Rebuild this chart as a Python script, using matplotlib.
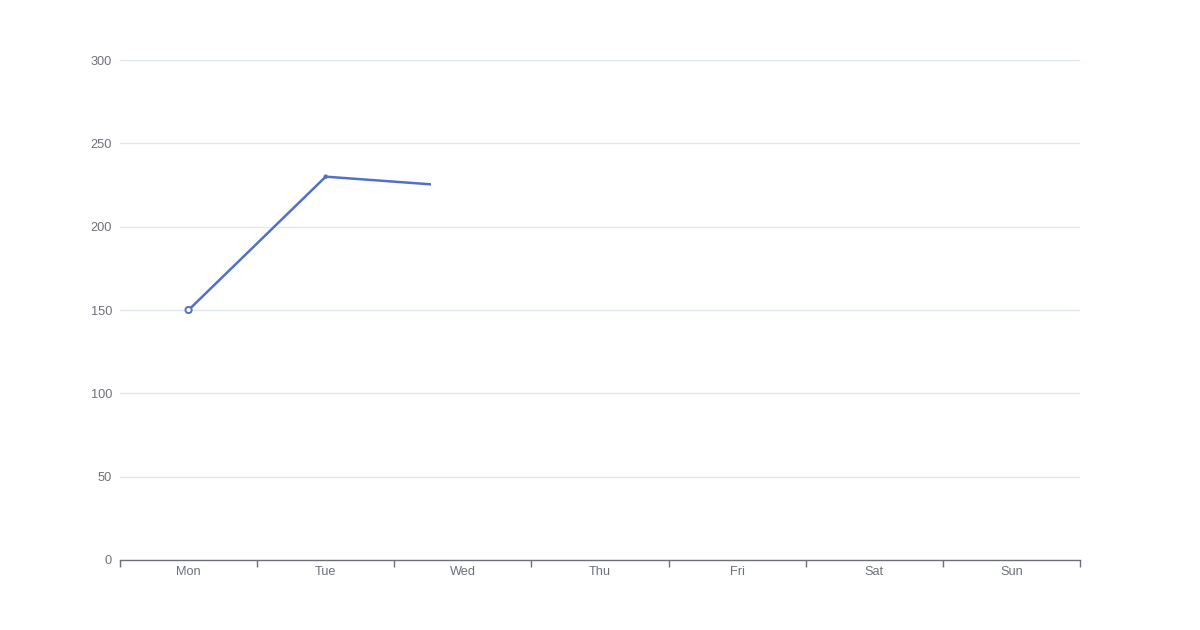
import matplotlib
matplotlib.use("Agg")
import matplotlib.pyplot as plt
from matplotlib.patches import Rectangle

plt.rcParams["font.family"] = ["Liberation Sans", "DejaVu Sans"]

categories = ["Mon", "Tue", "Wed", "Thu", "Fri", "Sat", "Sun"]
values = [150, 230, 224]          # visible part of the series
reveal_until = 1.767              # line drawn (animation) up to this category position
y_ticks = [0, 50, 100, 150, 200, 250, 300]

LINE = "#5470c6"
AXIS = "#6e7079"
GRID = "#E0E6F1"

fig = plt.figure(figsize=(12, 6.3), dpi=100)
ax = fig.add_axes([0.1, 70 / 630, 0.8, 500 / 630])

x = list(range(len(values)))
line, = ax.plot(x, values, color=LINE, linewidth=1.8, solid_joinstyle="bevel", zorder=3)
clip = Rectangle((-0.5, -50), reveal_until + 0.5, 500, transform=ax.transData)
line.set_clip_path(clip)

# symbols (growing during animation)
ax.scatter(x[:2], values[:2], s=[20, 7], facecolor=["white", LINE], edgecolor=LINE,
           linewidths=[1.4, 0.5], zorder=4, clip_on=False)

ax.set_xlim(-0.5, len(categories) - 0.5)
ax.set_ylim(0, 300)
ax.set_yticks(y_ticks)
ax.set_yticklabels([str(v) for v in y_ticks])
ax.set_xticks(range(len(categories)))
ax.set_xticklabels(categories)
ax.set_xticks([i - 0.5 for i in range(len(categories) + 1)], minor=True)

ax.grid(axis="y", color=GRID, linewidth=1)
ax.set_axisbelow(True)
for s in ["top", "right", "left"]:
    ax.spines[s].set_visible(False)
ax.spines["bottom"].set_color(AXIS)
ax.spines["bottom"].set_linewidth(1)

ax.tick_params(axis="y", length=0, pad=5.8, labelcolor=AXIS, labelsize=9.2)
ax.tick_params(axis="x", which="major", length=0, pad=4, labelcolor=AXIS, labelsize=9.2)
ax.tick_params(axis="x", which="minor", length=5, width=1, color=AXIS, direction="out")

fig.savefig("out.png", dpi=100, facecolor="white")
